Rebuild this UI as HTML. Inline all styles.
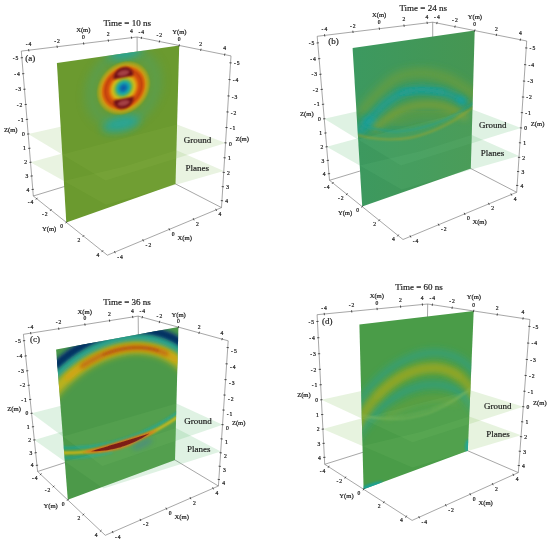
<!DOCTYPE html>
<html lang="en"><head><meta charset="utf-8"><title>GPR wave propagation snapshots</title>
<style>html,body{margin:0;padding:0;background:#fff}svg{display:block}</style></head><body>
<svg width="550" height="543" viewBox="0 0 550 543">
<rect width="550" height="543" fill="#fff"/>
<defs>
<filter id="b05" x="-50%" y="-50%" width="200%" height="200%"><feGaussianBlur stdDeviation="0.6"/></filter>
<filter id="b1" x="-50%" y="-50%" width="200%" height="200%"><feGaussianBlur stdDeviation="1"/></filter>
<filter id="b2" x="-50%" y="-50%" width="200%" height="200%"><feGaussianBlur stdDeviation="2"/></filter>
<filter id="b3" x="-50%" y="-50%" width="200%" height="200%"><feGaussianBlur stdDeviation="3"/></filter>
<filter id="b4" x="-50%" y="-50%" width="200%" height="200%"><feGaussianBlur stdDeviation="4"/></filter>
<filter id="b5" x="-50%" y="-50%" width="200%" height="200%"><feGaussianBlur stdDeviation="5"/></filter>
<linearGradient id="gb" gradientUnits="userSpaceOnUse" x1="352" y1="0" x2="475" y2="0"><stop offset="0" stop-color="#3c9960"/><stop offset="1" stop-color="#469652"/></linearGradient>
<radialGradient id="ga" gradientUnits="userSpaceOnUse" cx="0" cy="0" r="27">
<stop offset="0" stop-color="#0a5aa8"/>
<stop offset="0.08" stop-color="#0c6cae"/>
<stop offset="0.2" stop-color="#18a3a6"/>
<stop offset="0.27" stop-color="#4fae6c"/>
<stop offset="0.33" stop-color="#9ab830"/>
<stop offset="0.40" stop-color="#d2b818"/>
<stop offset="0.47" stop-color="#e08a10"/>
<stop offset="0.56" stop-color="#d4500c"/>
<stop offset="0.66" stop-color="#c4420c"/>
<stop offset="0.74" stop-color="#d8640c"/>
<stop offset="0.81" stop-color="#cc9614"/>
<stop offset="0.88" stop-color="#a8a220"/>
<stop offset="0.95" stop-color="#809e2a"/>
<stop offset="1" stop-color="#6b9a2f" stop-opacity="0"/>
</radialGradient>
</defs>
<g id="panel-a">
<clipPath id="clipa"><polygon points="56.9,62.9 179.2,45.5 175.5,183.9 66.3,222.4"/></clipPath>
<line x1="137.1" y1="37" x2="137.4" y2="164.3" stroke="#5e5e5e" stroke-width="0.55"/>
<line x1="33.3" y1="196" x2="137.4" y2="164.3" stroke="#5e5e5e" stroke-width="0.55"/>
<line x1="137.4" y1="164.3" x2="221.5" y2="207.6" stroke="#5e5e5e" stroke-width="0.55"/>
<polygon points="30.5,162.3 137.4,133.1 176.4,150.2 124.7,166.5 63.9,181" fill="#8fc46a" fill-opacity="0.2"/>
<polygon points="28.2,134 137.3,109.4 177.1,124.5 62.3,154.6" fill="#8fc46a" fill-opacity="0.2"/>
<polygon points="63.9,181 124.7,166.5 176.4,150.2 223.8,171 106.1,204.7" fill="#8fc46a" fill-opacity="0.2"/>
<polygon points="62.3,154.6 177.1,124.5 225.6,142.9 105.4,180.5" fill="#8fc46a" fill-opacity="0.2"/>
<polygon points="56.9,62.9 179.2,45.5 175.5,183.9 66.3,222.4" fill="#6b9a2f"/>
<g clip-path="url(#clipa)">
<g transform="matrix(1.0229,-0.1955,0.0125,0.9999,123.50,88.00)">
<ellipse cx="-2.5" cy="35" rx="18" ry="7.5" fill="#22a59c" opacity="1" filter="url(#b4)"/>
<ellipse cx="2.5" cy="-35" rx="16" ry="7" fill="#22a59c" opacity="0.95" filter="url(#b4)"/>
<ellipse rx="32" ry="35" fill="none" stroke="#3aa58a" stroke-width="9" opacity="0.4" filter="url(#b5)"/>
<circle r="27" fill="url(#ga)" filter="url(#b05)"/>
<path d="M-9.8,-10.6 L9.8,-10.6 C9.8,-16.5 5.6,-20.8 0,-20.8 C-5.6,-20.8 -9.8,-16.5 -9.8,-10.6 Z" fill="#6e0f14" filter="url(#b1)"/>
<path d="M-9.8,10.6 L9.8,10.6 C9.8,16.5 5.6,20.8 0,20.8 C-5.6,20.8 -9.8,16.5 -9.8,10.6 Z" fill="#6e0f14" filter="url(#b1)"/>
<ellipse cx="0" cy="-15" rx="6" ry="2.9" fill="#a44044" filter="url(#b1)"/>
<ellipse cx="0" cy="15" rx="6" ry="2.9" fill="#a44044" filter="url(#b1)"/>
</g>
</g>
<polygon points="63.9,181 124.7,166.5 176.4,150.2 223.8,171 106.1,204.7" fill="#b4d860" fill-opacity="0.08" clip-path="url(#clipa)"/>
<polygon points="62.3,154.6 177.1,124.5 225.6,142.9 105.4,180.5" fill="#b4d860" fill-opacity="0.08" clip-path="url(#clipa)"/>
<path d="M21.3,51.1L137.1,37M137.1,37L231,55.9M21.3,51.1L33.3,196M231,55.9L221.5,207.6M33.3,196L107.4,255.2M107.4,255.2L221.5,207.6" stroke="#5e5e5e" stroke-width="0.55" fill="none"/>
<path d="M28.6,49.1L28.9,51.4M57,45.6L57.3,47.9M83.5,42.4L83.8,44.7M108.2,39.4L108.5,41.7M131.4,36.6L131.7,38.8M141.6,36.8L141.2,39M159.7,40.4L159.2,42.6M179.4,44.3L179,46.6M201.1,48.7L200.6,50.9M224.9,53.5L224.5,55.7M23,57.7L20.7,57.8M24.3,73.6L22,73.8M25.6,89.2L23.3,89.3M26.9,104.4L24.6,104.6M28.1,119.3L25.8,119.5M29.3,133.9L27,134.1M30.5,148.2L28.2,148.4M31.6,162.2L29.4,162.4M32.8,175.9L30.5,176.1M33.9,189.3L31.6,189.5M231.7,62.9L229.4,62.8M230.7,79.7L228.4,79.5M229.7,96L227.4,95.9M228.7,112L226.4,111.9M227.7,127.6L225.4,127.5M226.7,142.9L224.4,142.8M225.8,157.9L223.5,157.7M224.9,172.5L222.6,172.3M224,186.8L221.7,186.6M223.1,200.8L220.8,200.6M37.4,197.8L35.9,199.6M51.5,209.1L50.1,210.9M67,221.5L65.6,223.3M84.1,235.2L82.7,236.9M103.1,250.3L101.6,252.1M114.4,251.1L115.3,253.2M142.7,239.2L143.6,241.4M168.9,228.3L169.8,230.4M193.2,218.2L194.1,220.3M215.7,208.8L216.6,210.9" stroke="#222" stroke-width="0.75" fill="none"/>
<g font-family="Liberation Serif, serif" fill="#222" stroke="#222" stroke-width="0.22"><text x="28.5" y="45.9" font-size="5.6" text-anchor="middle">-<tspan dx="0.9">4</tspan></text><text x="57" y="42.5" font-size="5.6" text-anchor="middle">-<tspan dx="0.9">2</tspan></text><text x="83.4" y="39.2" font-size="5.6" text-anchor="middle">0</text><text x="83.3" y="32.2" font-size="6.6" text-anchor="middle">X(m)</text><text x="108.2" y="36.2" font-size="5.6" text-anchor="middle">2</text><text x="131.3" y="33.4" font-size="5.6" text-anchor="middle">4</text><text x="141.3" y="33.6" font-size="5.6" text-anchor="middle">-<tspan dx="0.9">4</tspan></text><text x="159.3" y="37.2" font-size="5.6" text-anchor="middle">-<tspan dx="0.9">2</tspan></text><text x="179.1" y="41.2" font-size="5.6" text-anchor="middle">0</text><text x="179.4" y="33.8" font-size="6.6" text-anchor="middle">Y(m)</text><text x="200.7" y="45.5" font-size="5.6" text-anchor="middle">2</text><text x="224.6" y="50.3" font-size="5.6" text-anchor="middle">4</text><text x="18.4" y="59.8" font-size="5.6" text-anchor="end">-<tspan dx="0.9">5</tspan></text><text x="19.8" y="75.8" font-size="5.6" text-anchor="end">-<tspan dx="0.9">4</tspan></text><text x="21" y="91.4" font-size="5.6" text-anchor="end">-<tspan dx="0.9">3</tspan></text><text x="22.3" y="106.6" font-size="5.6" text-anchor="end">-<tspan dx="0.9">2</tspan></text><text x="23.5" y="121.5" font-size="5.6" text-anchor="end">-<tspan dx="0.9">1</tspan></text><text x="24.8" y="136.1" font-size="5.6" text-anchor="end">0</text><text x="17.5" y="131.6" font-size="6.6" text-anchor="end">Z(m)</text><text x="25.9" y="150.4" font-size="5.6" text-anchor="end">1</text><text x="27.1" y="164.4" font-size="5.6" text-anchor="end">2</text><text x="28.2" y="178.1" font-size="5.6" text-anchor="end">3</text><text x="29.4" y="191.5" font-size="5.6" text-anchor="end">4</text><text x="233.9" y="65.4" font-size="5.6" text-anchor="start">-<tspan dx="0.9">5</tspan></text><text x="232.8" y="82.2" font-size="5.6" text-anchor="start">-<tspan dx="0.9">4</tspan></text><text x="231.8" y="98.6" font-size="5.6" text-anchor="start">-<tspan dx="0.9">3</tspan></text><text x="230.8" y="114.5" font-size="5.6" text-anchor="start">-<tspan dx="0.9">2</tspan></text><text x="229.8" y="130.2" font-size="5.6" text-anchor="start">-<tspan dx="0.9">1</tspan></text><text x="228.9" y="145.5" font-size="5.6" text-anchor="start">0</text><text x="235.4" y="141.4" font-size="6.6" text-anchor="start">Z(m)</text><text x="228" y="160.4" font-size="5.6" text-anchor="start">1</text><text x="227" y="175" font-size="5.6" text-anchor="start">2</text><text x="226.2" y="189.3" font-size="5.6" text-anchor="start">3</text><text x="225.3" y="203.3" font-size="5.6" text-anchor="start">4</text><text x="33.4" y="204.4" font-size="5.6" text-anchor="end">-<tspan dx="0.9">4</tspan></text><text x="47.6" y="215.7" font-size="5.6" text-anchor="end">-<tspan dx="0.9">2</tspan></text><text x="63.1" y="228.1" font-size="5.6" text-anchor="end">0</text><text x="56.3" y="230.8" font-size="6.6" text-anchor="end">Y(m)</text><text x="80.2" y="241.7" font-size="5.6" text-anchor="end">2</text><text x="99.2" y="256.9" font-size="5.6" text-anchor="end">4</text><text x="117.3" y="258.6" font-size="5.6" text-anchor="start">-<tspan dx="0.9">4</tspan></text><text x="145.6" y="246.8" font-size="5.6" text-anchor="start">-<tspan dx="0.9">2</tspan></text><text x="171.8" y="235.9" font-size="5.6" text-anchor="start">0</text><text x="177.6" y="240" font-size="6.6" text-anchor="start">X(m)</text><text x="196" y="225.8" font-size="5.6" text-anchor="start">2</text><text x="218.6" y="216.3" font-size="5.6" text-anchor="start">4</text></g>
<g font-family="Liberation Serif, serif" fill="#1a1a1a" stroke="#1a1a1a" stroke-width="0.18" font-size="9">
<text x="127.2" y="26.2" text-anchor="middle">Time = 10 ns</text>
<text x="25.3" y="61" text-anchor="start">(a)</text>
<text x="183.8" y="142.9" text-anchor="start">Ground</text>
<text x="185.6" y="170.8" text-anchor="start">Planes</text>
</g>
</g>
<g id="panel-b">
<clipPath id="clipb"><polygon points="352.6,48 474.7,30.6 470.8,168.5 362.2,206.6"/></clipPath>
<line x1="432.7" y1="22.2" x2="432.9" y2="148.9" stroke="#5e5e5e" stroke-width="0.55"/>
<line x1="329.5" y1="180.3" x2="432.9" y2="148.9" stroke="#5e5e5e" stroke-width="0.55"/>
<line x1="432.9" y1="148.9" x2="516.7" y2="192.3" stroke="#5e5e5e" stroke-width="0.55"/>
<polygon points="326.7,146.8 432.9,117.9 471.8,135 420.2,151.2 359.7,165.6" fill="#5fbe73" fill-opacity="0.2"/>
<polygon points="324.3,118.8 432.8,94.3 472.5,109.4 358.1,139.4" fill="#5fbe73" fill-opacity="0.2"/>
<polygon points="359.7,165.6 420.2,151.2 471.8,135 519.1,155.9 401.6,189.5" fill="#5fbe73" fill-opacity="0.2"/>
<polygon points="358.1,139.4 472.5,109.4 521,127.9 401,165.4" fill="#5fbe73" fill-opacity="0.2"/>
<polygon points="352.6,48 474.7,30.6 470.8,168.5 362.2,206.6" fill="url(#gb)"/>
<g clip-path="url(#clipb)">
<path d="M360,114C362.2,111.4 367,104.5 373,98.5C379,92.5 388,82.2 396,78C404,73.8 412.5,73 421,73C429.5,73 439.7,75.4 447,78C454.3,80.6 459.1,85.1 464.6,88.4C470.1,91.7 477.4,96.4 480,98" fill="none" stroke="#7da032" stroke-width="9" stroke-opacity="0.6" stroke-linecap="butt" filter="url(#b4)"/>
<path d="M360,131C361.5,129.4 365.2,125.7 369,121.5C372.8,117.3 377.7,110.7 383,106C388.3,101.3 394.7,96.2 401,93.5C407.3,90.8 414.2,89.8 421,89.6C427.8,89.4 436,91 441.7,92.2C447.4,93.4 451.3,95.3 455,97C458.7,98.7 462.5,101.6 464,102.5" fill="none" stroke="#169f9c" stroke-width="8" stroke-opacity="0.8" stroke-linecap="round" filter="url(#b3)"/>
<ellipse cx="461" cy="100.5" rx="5" ry="4" transform="rotate(35 461 100.5)" fill="#12a0a0" opacity="0.7" filter="url(#b2)"/>
<ellipse cx="369.5" cy="122" rx="7" ry="6" fill="#12a0a0" opacity="0.8" filter="url(#b3)"/>
<path d="M401,93.5C404.3,92.8 414.2,89.8 421,89.6C427.8,89.4 438.2,91.8 441.7,92.2" fill="none" stroke="#12a0a0" stroke-width="6" stroke-opacity="0.5" stroke-linecap="round" filter="url(#b3)"/>
<path d="M376,127C377.2,126.1 378.8,124.3 383,121.5C387.2,118.7 394.7,112.8 401,110C407.3,107.2 414.2,105.7 421,105C427.8,104.3 436,105 441.7,106C447.4,107 451.3,109.3 455,111C458.7,112.7 462.5,115.2 464,116" fill="none" stroke="#86a02c" stroke-width="8" stroke-opacity="0.7" stroke-linecap="round" filter="url(#b3)"/>
<path d="M395,122C399.3,120.8 411.8,115.8 421,115C430.2,114.2 445.2,116.7 450,117" fill="none" stroke="#86a02c" stroke-width="8" stroke-opacity="0.35" stroke-linecap="round" filter="url(#b4)"/>
<path d="M350,133.5C351.3,133.8 352.2,134.5 357.7,135.4C363.2,136.3 374.5,138.8 383,139.2C391.5,139.6 400.1,139.5 408.6,138C417.1,136.5 426.4,133.3 434,130.3C441.6,127.3 448.2,123.8 454.4,120.2C460.6,116.6 466.7,111.7 471,108.7C475.3,105.7 478.5,103.1 480,102" fill="none" stroke="#8aa030" stroke-width="1.8" stroke-opacity="0.9" stroke-linecap="butt" filter="url(#b1)"/>
<path d="M366,126C366.7,126.3 365.4,126.9 370.4,127.8C375.4,128.7 387.5,131.6 396,131.6C404.5,131.6 412.8,129.9 421.3,127.8C429.8,125.7 439.2,122.3 446.8,118.9C454.4,115.5 461.5,110.7 467,107.4C472.5,104.1 477.8,100.4 480,99" fill="none" stroke="#1f9f93" stroke-width="2.2" stroke-opacity="0.6" stroke-linecap="butt" filter="url(#b1)"/>
</g>
<polygon points="359.7,165.6 420.2,151.2 471.8,135 519.1,155.9 401.6,189.5" fill="#90e0a0" fill-opacity="0.08" clip-path="url(#clipb)"/>
<polygon points="358.1,139.4 472.5,109.4 521,127.9 401,165.4" fill="#90e0a0" fill-opacity="0.08" clip-path="url(#clipb)"/>
<path d="M317.2,36.3L432.7,22.2M432.7,22.2L526.7,41M317.2,36.3L329.5,180.3M526.7,41L516.7,192.3M329.5,180.3L403,239.5M403,239.5L516.7,192.3" stroke="#5e5e5e" stroke-width="0.55" fill="none"/>
<path d="M324.5,34.2L324.8,36.5M352.8,30.7L353.1,33M379.2,27.5L379.5,29.8M403.9,24.5L404.2,26.8M427,21.7L427.3,24M437.2,21.9L436.7,24.1M455.2,25.5L454.8,27.7M475,29.4L474.5,31.7M496.6,33.8L496.2,36M520.6,38.6L520.1,40.8M318.9,42.8L316.6,43M320.3,58.6L318,58.8M321.6,74.2L319.3,74.4M322.9,89.3L320.6,89.5M324.2,104.2L321.9,104.4M325.4,118.7L323.1,118.9M326.6,132.9L324.3,133.1M327.8,146.7L325.5,146.9M329,160.3L326.7,160.5M330.1,173.6L327.8,173.8M527.4,48L525.1,47.9M526.3,64.8L524,64.6M525.2,81.2L522.9,81M524.2,97.1L521.9,97M523.1,112.7L520.8,112.6M522.1,128L519.8,127.8M521.1,142.9L518.9,142.7M520.2,157.4L517.9,157.3M519.2,171.6L517,171.5M518.3,185.5L516,185.4M333.5,182L332.1,183.8M347.5,193.3L346.1,195.1M362.9,205.7L361.5,207.5M379.9,219.4L378.4,221.2M398.7,234.6L397.3,236.4M410,235.4L410.9,237.5M438.2,223.7L439.1,225.8M464.2,212.8L465.1,215M488.4,202.8L489.3,204.9M510.9,193.5L511.8,195.6" stroke="#222" stroke-width="0.75" fill="none"/>
<g font-family="Liberation Serif, serif" fill="#222" stroke="#222" stroke-width="0.22"><text x="324.4" y="31" font-size="5.6" text-anchor="middle">-<tspan dx="0.9">4</tspan></text><text x="352.8" y="27.6" font-size="5.6" text-anchor="middle">-<tspan dx="0.9">2</tspan></text><text x="379.2" y="24.4" font-size="5.6" text-anchor="middle">0</text><text x="379.1" y="17.4" font-size="6.6" text-anchor="middle">X(m)</text><text x="403.8" y="21.4" font-size="5.6" text-anchor="middle">2</text><text x="426.9" y="18.5" font-size="5.6" text-anchor="middle">4</text><text x="436.9" y="18.7" font-size="5.6" text-anchor="middle">-<tspan dx="0.9">4</tspan></text><text x="454.9" y="22.3" font-size="5.6" text-anchor="middle">-<tspan dx="0.9">2</tspan></text><text x="474.6" y="26.3" font-size="5.6" text-anchor="middle">0</text><text x="474.9" y="18.9" font-size="6.6" text-anchor="middle">Y(m)</text><text x="496.3" y="30.6" font-size="5.6" text-anchor="middle">2</text><text x="520.3" y="35.4" font-size="5.6" text-anchor="middle">4</text><text x="314.4" y="45" font-size="5.6" text-anchor="end">-<tspan dx="0.9">5</tspan></text><text x="315.7" y="60.8" font-size="5.6" text-anchor="end">-<tspan dx="0.9">4</tspan></text><text x="317.1" y="76.4" font-size="5.6" text-anchor="end">-<tspan dx="0.9">3</tspan></text><text x="318.4" y="91.5" font-size="5.6" text-anchor="end">-<tspan dx="0.9">2</tspan></text><text x="319.6" y="106.4" font-size="5.6" text-anchor="end">-<tspan dx="0.9">1</tspan></text><text x="320.9" y="120.9" font-size="5.6" text-anchor="end">0</text><text x="313.6" y="116.4" font-size="6.6" text-anchor="end">Z(m)</text><text x="322.1" y="135.1" font-size="5.6" text-anchor="end">1</text><text x="323.3" y="148.9" font-size="5.6" text-anchor="end">2</text><text x="324.4" y="162.5" font-size="5.6" text-anchor="end">3</text><text x="325.6" y="175.8" font-size="5.6" text-anchor="end">4</text><text x="529.6" y="50.3" font-size="5.6" text-anchor="start">-<tspan dx="0.9">5</tspan></text><text x="528.5" y="67" font-size="5.6" text-anchor="start">-<tspan dx="0.9">4</tspan></text><text x="527.4" y="83.4" font-size="5.6" text-anchor="start">-<tspan dx="0.9">3</tspan></text><text x="526.3" y="99.4" font-size="5.6" text-anchor="start">-<tspan dx="0.9">2</tspan></text><text x="525.3" y="115" font-size="5.6" text-anchor="start">-<tspan dx="0.9">1</tspan></text><text x="524.3" y="130.2" font-size="5.6" text-anchor="start">0</text><text x="530.8" y="125.9" font-size="6.6" text-anchor="start">Z(m)</text><text x="523.3" y="145.1" font-size="5.6" text-anchor="start">1</text><text x="522.3" y="159.6" font-size="5.6" text-anchor="start">2</text><text x="521.4" y="173.8" font-size="5.6" text-anchor="start">3</text><text x="520.5" y="187.7" font-size="5.6" text-anchor="start">4</text><text x="329.6" y="188.6" font-size="5.6" text-anchor="end">-<tspan dx="0.9">4</tspan></text><text x="343.6" y="199.9" font-size="5.6" text-anchor="end">-<tspan dx="0.9">2</tspan></text><text x="359" y="212.3" font-size="5.6" text-anchor="end">0</text><text x="352.2" y="215" font-size="6.6" text-anchor="end">Y(m)</text><text x="376" y="226" font-size="5.6" text-anchor="end">2</text><text x="394.8" y="241.2" font-size="5.6" text-anchor="end">4</text><text x="412.8" y="242.9" font-size="5.6" text-anchor="start">-<tspan dx="0.9">4</tspan></text><text x="441" y="231.2" font-size="5.6" text-anchor="start">-<tspan dx="0.9">2</tspan></text><text x="467.1" y="220.4" font-size="5.6" text-anchor="start">0</text><text x="472.4" y="223.7" font-size="6.6" text-anchor="start">X(m)</text><text x="491.3" y="210.4" font-size="5.6" text-anchor="start">2</text><text x="513.8" y="201" font-size="5.6" text-anchor="start">4</text></g>
<g font-family="Liberation Serif, serif" fill="#1a1a1a" stroke="#1a1a1a" stroke-width="0.18" font-size="9">
<text x="423.2" y="11.3" text-anchor="middle">Time = 24 ns</text>
<text x="328.2" y="43.6" text-anchor="start">(b)</text>
<text x="479.1" y="127.5" text-anchor="start">Ground</text>
<text x="480.7" y="155.8" text-anchor="start">Planes</text>
</g>
</g>
<g id="panel-c">
<clipPath id="clipc"><polygon points="56.1,349.6 178.4,327.1 175,460 67.8,499.8"/></clipPath>
<line x1="138.2" y1="316.1" x2="139.2" y2="438.5" stroke="#5e5e5e" stroke-width="0.55"/>
<line x1="37.6" y1="471.5" x2="139.2" y2="438.5" stroke="#5e5e5e" stroke-width="0.55"/>
<line x1="139.2" y1="438.5" x2="218.4" y2="486" stroke="#5e5e5e" stroke-width="0.55"/>
<polygon points="34.4,439.9 139,408.8 175.8,428 124.5,445.5 64.8,461.4" fill="#5fbe73" fill-opacity="0.2"/>
<polygon points="31.6,413.3 138.8,386.1 176.5,403.5 62.9,436.6" fill="#5fbe73" fill-opacity="0.2"/>
<polygon points="64.8,461.4 124.5,445.5 175.8,428 220.8,451.4 103.4,488.6" fill="#5fbe73" fill-opacity="0.2"/>
<polygon points="62.9,436.6 176.5,403.5 222.6,424.7 102.4,466.1" fill="#5fbe73" fill-opacity="0.2"/>
<polygon points="56.1,349.6 178.4,327.1 175,460 67.8,499.8" fill="#4c9949"/>
<g clip-path="url(#clipc)">
<path d="M46.8,374.5C48.2,373.1 52.3,368.9 55,366.3C57.7,363.7 60.5,361.4 63.2,359.2C65.9,356.9 68.6,354.9 71.3,353C74,351.1 76.7,349.3 79.4,347.7C82.1,346 84.7,344.5 87.4,343.1C90,341.8 92.7,340.5 95.3,339.3C97.9,338.2 100.5,337.2 103.1,336.2C105.7,335.3 108.2,334.5 110.8,333.8C113.3,333.1 115.8,332.5 118.3,332C120.8,331.5 123.3,331.1 125.8,330.7C128.2,330.4 130.6,330.2 133,330.1C135.4,330 137.8,330 140.2,330.1C142.5,330.2 144.9,330.3 147.2,330.6C149.5,330.9 151.8,331.2 154,331.7C156.3,332.2 158.5,332.8 160.7,333.4C162.9,334.1 165.1,334.9 167.2,335.8C169.4,336.6 171.5,337.6 173.6,338.7C175.7,339.8 177.7,341.1 179.7,342.4C181.8,343.8 184.7,346.2 185.7,346.9" fill="none" stroke="#0a3a72" stroke-width="9.5" stroke-opacity="1" stroke-linecap="butt" filter="url(#b2)"/>
<path d="M46.8,374.5C48.2,373.1 52.3,368.9 55,366.3C57.7,363.7 60.5,361.4 63.2,359.2C65.9,356.9 68.6,354.9 71.3,353C74,351.1 76.7,349.3 79.4,347.7C82.1,346 84.7,344.5 87.4,343.1C90,341.8 92.7,340.5 95.3,339.3C97.9,338.2 100.5,337.2 103.1,336.2C105.7,335.3 108.2,334.5 110.8,333.8C113.3,333.1 115.8,332.5 118.3,332C120.8,331.5 123.3,331.1 125.8,330.7C128.2,330.4 130.6,330.2 133,330.1C135.4,330 137.8,330 140.2,330.1C142.5,330.2 144.9,330.3 147.2,330.6C149.5,330.9 151.8,331.2 154,331.7C156.3,332.2 158.5,332.8 160.7,333.4C162.9,334.1 165.1,334.9 167.2,335.8C169.4,336.6 171.5,337.6 173.6,338.7C175.7,339.8 177.7,341.1 179.7,342.4C181.8,343.8 184.7,346.2 185.7,346.9" fill="none" stroke="#08305f" stroke-width="5" stroke-opacity="0.8" stroke-linecap="butt" filter="url(#b1)"/>
<path d="M47.8,385.6C49.1,384.1 53.1,379.5 55.8,376.8C58.5,374 61.2,371.5 63.9,369.2C66.6,366.8 69.3,364.6 71.9,362.6C74.6,360.6 77.3,358.7 79.9,357C82.6,355.2 85.2,353.7 87.8,352.2C90.5,350.7 93.1,349.4 95.7,348.2C98.3,347 100.8,345.9 103.4,344.9C106,343.9 108.5,343.1 111,342.3C113.6,341.6 116.1,341 118.5,340.4C121,339.9 123.5,339.5 125.9,339.1C128.3,338.8 130.8,338.6 133.1,338.5C135.5,338.3 137.9,338.3 140.2,338.4C142.6,338.5 144.9,338.7 147.2,339C149.5,339.3 151.7,339.6 154,340.1C156.2,340.6 158.4,341.2 160.6,342C162.8,342.7 165,343.5 167.1,344.4C169.2,345.4 171.3,346.4 173.4,347.6C175.4,348.8 177.5,350.2 179.5,351.6C181.5,353.1 184.4,355.7 185.4,356.5" fill="none" stroke="#18a0a4" stroke-width="6.5" stroke-opacity="1" stroke-linecap="butt" filter="url(#b2)"/>
<path d="M48.9,398.3C50.2,396.7 54.1,391.6 56.8,388.6C59.4,385.6 62.1,382.9 64.7,380.4C67.3,377.8 70,375.5 72.6,373.3C75.3,371.1 77.9,369.2 80.5,367.3C83.1,365.4 85.7,363.8 88.3,362.2C90.9,360.6 93.5,359.2 96.1,358C98.7,356.7 101.2,355.5 103.8,354.5C106.3,353.4 108.8,352.5 111.3,351.7C113.8,351 116.3,350.3 118.8,349.7C121.2,349.1 123.7,348.7 126.1,348.3C128.5,348 130.9,347.8 133.3,347.6C135.6,347.5 138,347.5 140.3,347.6C142.6,347.7 144.9,347.9 147.2,348.2C149.5,348.5 151.7,348.9 153.9,349.5C156.2,350 158.4,350.7 160.5,351.4C162.7,352.2 164.8,353.1 166.9,354.2C169,355.2 171.1,356.4 173.2,357.7C175.2,359 177.2,360.5 179.2,362.1C181.2,363.8 184.1,366.8 185.1,367.7" fill="none" stroke="#c6b414" stroke-width="11.5" stroke-opacity="0.95" stroke-linecap="butt" filter="url(#b3)"/>
<path d="M67.7,377.6C68.7,376.7 71.8,373.9 73.9,372.3C76,370.6 78.1,369 80.1,367.6C82.2,366.1 84.3,364.7 86.3,363.4C88.4,362.2 90.4,361 92.5,359.9C94.5,358.7 96.5,357.7 98.5,356.8C100.6,355.8 102.6,355 104.6,354.2C106.6,353.4 108.6,352.6 110.5,352C112.5,351.4 114.5,350.8 116.4,350.3C118.4,349.8 120.3,349.3 122.2,349C124.1,348.6 126.1,348.3 128,348.1C129.9,347.9 131.7,347.7 133.6,347.6C135.5,347.5 137.3,347.5 139.2,347.6C141,347.6 142.8,347.7 144.6,347.9C146.4,348.1 148.2,348.3 150,348.6C151.8,349 153.5,349.4 155.3,349.8C157,350.3 158.7,350.8 160.5,351.4C162.2,352 163.9,352.7 165.5,353.5C167.2,354.3 168.9,355.1 170.5,356C172.1,357 174.5,358.6 175.3,359.2" fill="none" stroke="#d8a010" stroke-width="6" stroke-opacity="0.8" stroke-linecap="round" filter="url(#b2)"/>
<path d="M82.1,366.2C82.9,365.7 85.3,364.1 86.9,363.1C88.5,362.1 90.1,361.1 91.7,360.3C93.3,359.4 94.9,358.6 96.5,357.8C98.1,357 99.6,356.3 101.2,355.6C102.8,354.9 104.3,354.2 105.9,353.6C107.4,353.1 109,352.5 110.5,352C112.1,351.5 113.6,351 115.1,350.6C116.7,350.2 118.2,349.8 119.7,349.5C121.2,349.2 122.7,348.9 124.2,348.6C125.7,348.4 127.2,348.2 128.6,348C130.1,347.9 131.6,347.7 133.1,347.7C134.5,347.6 136,347.5 137.4,347.5C138.8,347.5 140.3,347.6 141.7,347.7C143.1,347.8 144.5,347.9 145.9,348C147.4,348.2 148.7,348.4 150.1,348.7C151.5,348.9 152.9,349.2 154.3,349.6C155.6,349.9 157,350.3 158.3,350.7C159.7,351.1 161,351.6 162.3,352.1C163.6,352.6 165.6,353.5 166.3,353.8" fill="none" stroke="#bd5c0e" stroke-width="4.2" stroke-opacity="0.9" stroke-linecap="round" filter="url(#b2)"/>
<path d="M103.3,354.7C103.8,354.5 105.4,353.8 106.4,353.5C107.4,353.1 108.4,352.7 109.4,352.4C110.5,352 111.5,351.7 112.5,351.4C113.5,351.1 114.5,350.8 115.5,350.5C116.5,350.3 117.5,350 118.5,349.8C119.5,349.5 120.5,349.3 121.4,349.1C122.4,348.9 123.4,348.8 124.4,348.6C125.4,348.4 126.4,348.3 127.3,348.2C128.3,348.1 129.3,348 130.2,347.9C131.2,347.8 132.2,347.7 133.1,347.7C134.1,347.6 135,347.6 136,347.6C136.9,347.5 137.9,347.5 138.8,347.6C139.8,347.6 140.7,347.6 141.6,347.7C142.6,347.7 143.5,347.8 144.4,347.9C145.4,348 146.3,348.1 147.2,348.2C148.1,348.3 149,348.5 149.9,348.6C150.8,348.8 151.8,349 152.7,349.2C153.6,349.4 154.4,349.6 155.3,349.8C156.2,350.1 157.6,350.5 158,350.6" fill="none" stroke="#b24c0c" stroke-width="2.2" stroke-opacity="0.7" stroke-linecap="round" filter="url(#b1)"/>
<path d="M53.1,447.3C54.5,447.4 58.7,447.7 61.5,447.8C64.2,447.9 66.9,447.9 69.6,447.9C72.2,447.9 74.8,447.8 77.4,447.6C80,447.5 82.6,447.3 85.1,447.1C87.6,446.9 90.1,446.6 92.6,446.3C95.1,445.9 97.5,445.5 99.9,445.1C102.3,444.7 104.7,444.2 107.1,443.7C109.5,443.2 111.8,442.7 114.1,442.1C116.4,441.5 118.7,440.9 121,440.2C123.2,439.5 125.5,438.8 127.7,438.1C129.9,437.3 132.1,436.5 134.3,435.7C136.5,434.8 138.7,434 140.8,433.1C143,432.1 145.1,431.2 147.2,430.2C149.4,429.2 151.4,428.2 153.5,427.1C155.6,426.1 157.7,425 159.7,423.8C161.8,422.7 163.8,421.5 165.9,420.3C167.9,419 169.9,417.8 171.9,416.5C173.9,415.2 175.9,413.8 177.9,412.4C179.8,411 182.8,408.8 183.8,408.1" fill="none" stroke="#1aa39a" stroke-width="3" stroke-opacity="0.75" stroke-linecap="butt" filter="url(#b1)"/>
<path d="M54,457.7C54.6,457.7 56.3,457.8 57.4,457.8C58.5,457.8 59.6,457.8 60.7,457.9C61.8,457.9 62.9,457.9 64,457.9C65.1,457.9 66.1,457.8 67.2,457.8C68.3,457.8 69.4,457.8 70.4,457.7C71.5,457.7 72.5,457.6 73.6,457.6C74.6,457.5 75.7,457.5 76.7,457.4C77.8,457.3 78.8,457.2 79.8,457.1C80.9,457.1 81.9,457 82.9,456.9C83.9,456.8 84.9,456.6 85.9,456.5C87,456.4 88,456.3 89,456.2C90,456 91,455.9 91.9,455.7C92.9,455.6 93.9,455.4 94.9,455.3C95.9,455.1 96.9,454.9 97.8,454.8C98.8,454.6 99.8,454.4 100.7,454.2C101.7,454 102.7,453.8 103.6,453.6C104.6,453.4 105.5,453.2 106.5,453C107.4,452.8 108.4,452.6 109.3,452.3C110.3,452.1 111.7,451.8 112.1,451.6" fill="none" stroke="#1aa39a" stroke-width="3" stroke-opacity="0.65" stroke-linecap="butt" filter="url(#b1)"/>
<path d="M53.6,452.5C55,452.6 59.1,452.8 61.9,452.8C64.6,452.9 67.3,452.9 69.9,452.8C72.6,452.8 75.2,452.7 77.7,452.5C80.3,452.3 82.9,452.1 85.4,451.9C87.9,451.6 90.4,451.3 92.8,450.9C95.3,450.6 97.7,450.2 100.1,449.7C102.5,449.3 104.9,448.8 107.3,448.3C109.6,447.8 111.9,447.2 114.2,446.6C116.5,446 118.8,445.3 121.1,444.6C123.3,444 125.6,443.2 127.8,442.5C130,441.7 132.2,440.9 134.4,440.1C136.6,439.2 138.7,438.4 140.9,437.4C143,436.5 145.1,435.6 147.2,434.6C149.3,433.6 151.4,432.6 153.5,431.5C155.6,430.5 157.6,429.4 159.7,428.2C161.7,427.1 163.8,425.9 165.8,424.7C167.8,423.5 169.8,422.2 171.8,420.9C173.8,419.6 175.8,418.3 177.7,416.9C179.7,415.5 182.6,413.4 183.6,412.7" fill="none" stroke="#d4b810" stroke-width="2.6" stroke-opacity="1" stroke-linecap="butt" filter="url(#b1)"/>
<path d="M81.4,452.2L85.1,451.2L88.7,450.1L92.4,449.1L96,448L99.5,447L103.1,445.9L106.6,444.9L110,443.9L113.5,442.9L116.9,441.8L120.2,440.8L123.6,439.8L126.9,438.8L130.2,437.8L133.4,436.8L136.6,435.8L139.8,434.8L143,433.8L146.1,432.8L149.3,431.8L152.4,430.9L155.4,429.9L158.4,428.9L158.4,428.9L155.4,431.2L152.3,433.4L149.3,435.4L146.2,437.4L143,439.2L139.9,440.9L136.7,442.5L133.5,444L130.3,445.4L127,446.7L123.7,447.8L120.4,448.9L117.1,449.8L113.7,450.6L110.3,451.3L106.8,451.9L103.3,452.3L99.8,452.7L96.2,452.8L92.6,452.9L88.9,452.8L85.2,452.6L81.4,452.2Z" fill="#d8700c" filter="url(#b1)"/>
<path d="M91,451.2L93.7,450.4L96.4,449.6L99.1,448.8L101.8,448L104.5,447.2L107.1,446.4L109.7,445.6L112.3,444.8L114.9,444.1L117.5,443.3L120.1,442.5L122.6,441.8L125.1,441L127.6,440.2L130.1,439.5L132.5,438.7L135,438L137.4,437.2L139.8,436.5L142.2,435.8L144.6,435L147,434.3L149.4,433.6L149.4,433.6L147,435.1L144.6,436.5L142.3,437.9L139.9,439.2L137.5,440.5L135,441.7L132.6,442.8L130.2,443.8L127.7,444.8L125.2,445.7L122.7,446.6L120.2,447.4L117.6,448.1L115.1,448.7L112.5,449.3L109.9,449.8L107.3,450.2L104.6,450.6L101.9,450.8L99.2,451L96.5,451.2L93.8,451.2L91,451.2Z" fill="#7a1010" filter="url(#b05)"/>
<ellipse cx="142.4" cy="444.2" rx="11" ry="3.8" transform="rotate(-25 142.4 444.2)" fill="#3d7d82" opacity="0.7" filter="url(#b2)"/>
</g>
<polygon points="64.8,461.4 124.5,445.5 175.8,428 220.8,451.4 103.4,488.6" fill="#a0e090" fill-opacity="0.08" clip-path="url(#clipc)"/>
<polygon points="62.9,436.6 176.5,403.5 222.6,424.7 102.4,466.1" fill="#a0e090" fill-opacity="0.08" clip-path="url(#clipc)"/>
<path d="M23.4,334.3L138.2,316.1M138.2,316.1L228.2,340.8M23.4,334.3L37.6,471.5M228.2,340.8L218.4,486M37.6,471.5L105.3,535.3M105.3,535.3L218.4,486" stroke="#5e5e5e" stroke-width="0.55" fill="none"/>
<path d="M30.6,332L30.9,334.3M58.6,327.6L58.9,329.9M84.8,323.4L85.1,325.7M109.4,319.5L109.7,321.8M132.5,315.9L132.9,318.1M142.6,316.1L142,318.3M159.8,320.8L159.2,323.1M178.7,326L178.1,328.2M199.5,331.7L198.8,333.9M222.4,338L221.8,340.2M25.2,340.6L22.9,340.8M26.8,355.8L24.5,356.1M28.3,370.7L26.1,370.9M29.9,385.2L27.6,385.4M31.3,399.4L29,399.6M32.7,413.2L30.5,413.4M34.1,426.6L31.9,426.9M35.5,439.8L33.2,440M36.8,452.6L34.5,452.9M38.1,465.2L35.8,465.4M228.9,347.7L226.6,347.5M227.8,363.9L225.5,363.8M226.7,379.7L224.4,379.6M225.7,395.1L223.4,395M224.7,410.1L222.4,410M223.7,424.7L221.4,424.6M222.7,439L220.5,438.8M221.8,452.9L219.5,452.7M220.9,466.4L218.6,466.2M220,479.6L217.7,479.4M41.5,473.5L39.9,475.2M54.4,485.7L52.8,487.3M68.5,499L67,500.7M84.2,513.7L82.6,515.4M101.5,530.1L99.9,531.7M112.2,531L113.1,533.1M140,518.9L140.9,521M165.9,507.6L166.8,509.7M190,497.1L190.9,499.2M212.6,487.3L213.5,489.4" stroke="#222" stroke-width="0.75" fill="none"/>
<g font-family="Liberation Serif, serif" fill="#222" stroke="#222" stroke-width="0.22"><text x="30.5" y="328.9" font-size="5.6" text-anchor="middle">-<tspan dx="0.9">4</tspan></text><text x="58.5" y="324.4" font-size="5.6" text-anchor="middle">-<tspan dx="0.9">2</tspan></text><text x="84.8" y="320.3" font-size="5.6" text-anchor="middle">0</text><text x="84.7" y="314.4" font-size="6.6" text-anchor="middle">X(m)</text><text x="109.4" y="316.4" font-size="5.6" text-anchor="middle">2</text><text x="132.5" y="312.7" font-size="5.6" text-anchor="middle">4</text><text x="142.2" y="312.9" font-size="5.6" text-anchor="middle">-<tspan dx="0.9">4</tspan></text><text x="159.4" y="317.7" font-size="5.6" text-anchor="middle">-<tspan dx="0.9">2</tspan></text><text x="178.3" y="322.8" font-size="5.6" text-anchor="middle">0</text><text x="178.6" y="316.7" font-size="6.6" text-anchor="middle">Y(m)</text><text x="199.1" y="328.5" font-size="5.6" text-anchor="middle">2</text><text x="222" y="334.8" font-size="5.6" text-anchor="middle">4</text><text x="20.7" y="342.8" font-size="5.6" text-anchor="end">-<tspan dx="0.9">5</tspan></text><text x="22.3" y="358.1" font-size="5.6" text-anchor="end">-<tspan dx="0.9">4</tspan></text><text x="23.8" y="372.9" font-size="5.6" text-anchor="end">-<tspan dx="0.9">3</tspan></text><text x="25.3" y="387.4" font-size="5.6" text-anchor="end">-<tspan dx="0.9">2</tspan></text><text x="26.8" y="401.6" font-size="5.6" text-anchor="end">-<tspan dx="0.9">1</tspan></text><text x="28.2" y="415.4" font-size="5.6" text-anchor="end">0</text><text x="20.9" y="410.9" font-size="6.6" text-anchor="end">Z(m)</text><text x="29.6" y="428.8" font-size="5.6" text-anchor="end">1</text><text x="31" y="442" font-size="5.6" text-anchor="end">2</text><text x="32.3" y="454.8" font-size="5.6" text-anchor="end">3</text><text x="33.6" y="467.4" font-size="5.6" text-anchor="end">4</text><text x="231.1" y="353" font-size="5.6" text-anchor="start">-<tspan dx="0.9">5</tspan></text><text x="230" y="369.2" font-size="5.6" text-anchor="start">-<tspan dx="0.9">4</tspan></text><text x="228.9" y="385.1" font-size="5.6" text-anchor="start">-<tspan dx="0.9">3</tspan></text><text x="227.9" y="400.5" font-size="5.6" text-anchor="start">-<tspan dx="0.9">2</tspan></text><text x="226.8" y="415.5" font-size="5.6" text-anchor="start">-<tspan dx="0.9">1</tspan></text><text x="225.9" y="430.1" font-size="5.6" text-anchor="start">0</text><text x="231.9" y="425.2" font-size="6.6" text-anchor="start">Z(m)</text><text x="224.9" y="444.3" font-size="5.6" text-anchor="start">1</text><text x="224" y="458.2" font-size="5.6" text-anchor="start">2</text><text x="223.1" y="471.7" font-size="5.6" text-anchor="start">3</text><text x="222.2" y="484.9" font-size="5.6" text-anchor="start">4</text><text x="37.5" y="480" font-size="5.6" text-anchor="end">-<tspan dx="0.9">4</tspan></text><text x="50.4" y="492.2" font-size="5.6" text-anchor="end">-<tspan dx="0.9">2</tspan></text><text x="64.6" y="505.5" font-size="5.6" text-anchor="end">0</text><text x="57.8" y="508.2" font-size="6.6" text-anchor="end">Y(m)</text><text x="80.2" y="520.3" font-size="5.6" text-anchor="end">2</text><text x="97.5" y="536.6" font-size="5.6" text-anchor="end">4</text><text x="115" y="538.6" font-size="5.6" text-anchor="start">-<tspan dx="0.9">4</tspan></text><text x="142.9" y="526.4" font-size="5.6" text-anchor="start">-<tspan dx="0.9">2</tspan></text><text x="168.8" y="515.2" font-size="5.6" text-anchor="start">0</text><text x="174.6" y="519.3" font-size="6.6" text-anchor="start">X(m)</text><text x="192.9" y="504.6" font-size="5.6" text-anchor="start">2</text><text x="215.4" y="494.8" font-size="5.6" text-anchor="start">4</text></g>
<g font-family="Liberation Serif, serif" fill="#1a1a1a" stroke="#1a1a1a" stroke-width="0.18" font-size="9">
<text x="127.1" y="304.7" text-anchor="middle">Time = 36 ns</text>
<text x="29.9" y="341.9" text-anchor="start">(c)</text>
<text x="184.3" y="424.4" text-anchor="start">Ground</text>
<text x="187.1" y="451.7" text-anchor="start">Planes</text>
</g>
</g>
<g id="panel-d">
<clipPath id="clipd"><polygon points="359.4,324.4 473.7,311 467.8,450.8 363.6,489.3"/></clipPath>
<line x1="427.7" y1="304" x2="425.7" y2="432.6" stroke="#5e5e5e" stroke-width="0.55"/>
<line x1="324.7" y1="464.3" x2="425.7" y2="432.6" stroke="#5e5e5e" stroke-width="0.55"/>
<line x1="425.7" y1="432.6" x2="518.3" y2="472.6" stroke="#5e5e5e" stroke-width="0.55"/>
<polygon points="322.9,429.1 426.2,400.8 469.2,416.4 420.6,432.1 362.5,446.1" fill="#8cc468" fill-opacity="0.21"/>
<polygon points="321.4,399.8 426.6,376.7 470.3,390.3 361.8,418.6" fill="#8cc468" fill-opacity="0.21"/>
<polygon points="362.5,446.1 420.6,432.1 469.2,416.4 521.1,435.2 412.4,467.5" fill="#8cc468" fill-opacity="0.21"/>
<polygon points="361.8,418.6 470.3,390.3 523.3,406.7 412.6,442.3" fill="#8cc468" fill-opacity="0.21"/>
<polygon points="359.4,324.4 473.7,311 467.8,450.8 363.6,489.3" fill="#4a9c48"/>
<g clip-path="url(#clipd)">
<path d="M351.4,417.8C352.7,415.4 356.6,407.8 359.2,403.6C361.7,399.4 364.3,395.8 366.9,392.4C369.5,389.1 372,386.1 374.6,383.3C377.1,380.6 379.6,378.1 382.2,375.8C384.7,373.5 387.2,371.5 389.6,369.6C392.1,367.8 394.5,366.1 397,364.6C399.4,363.1 401.8,361.7 404.2,360.5C406.5,359.3 408.9,358.3 411.2,357.4C413.5,356.5 415.8,355.7 418.1,355.1C420.4,354.4 422.6,353.9 424.9,353.5C427.1,353.2 429.3,352.9 431.4,352.8C433.6,352.7 435.8,352.7 437.9,352.8C440,352.9 442.1,353.2 444.1,353.6C446.2,353.9 448.2,354.4 450.2,355.1C452.2,355.7 454.2,356.5 456.1,357.4C458.1,358.3 460,359.4 461.8,360.6C463.7,361.9 465.6,363.2 467.4,364.8C469.2,366.4 471,368.2 472.7,370.2C474.4,372.3 477,376 477.8,377.2" fill="none" stroke="#2ca08a" stroke-width="8" stroke-opacity="0.6" stroke-linecap="butt" filter="url(#b3)"/>
<path d="M352.3,444.5C353.5,442.4 357.4,435.7 359.9,431.9C362.5,428.1 365,424.9 367.5,421.8C370.1,418.7 372.6,415.9 375.1,413.4C377.6,410.8 380.1,408.5 382.5,406.4C385,404.2 387.4,402.3 389.9,400.5C392.3,398.8 394.7,397.2 397.1,395.8C399.4,394.3 401.8,393.1 404.1,391.9C406.5,390.8 408.8,389.8 411,388.9C413.3,388.1 415.6,387.4 417.8,386.7C420,386.1 422.2,385.7 424.4,385.3C426.6,385 428.8,384.8 430.9,384.7C433,384.6 435.1,384.6 437.2,384.7C439.2,384.9 441.3,385.1 443.3,385.5C445.3,385.9 447.3,386.5 449.3,387.1C451.2,387.8 453.2,388.6 455.1,389.6C457,390.5 458.8,391.6 460.7,392.9C462.5,394.2 464.3,395.7 466.1,397.4C467.8,399.1 469.6,401 471.3,403.3C473,405.5 475.4,409.8 476.2,411.1" fill="none" stroke="#2ca08a" stroke-width="8" stroke-opacity="0.65" stroke-linecap="butt" filter="url(#b3)"/>
<path d="M352,437.1C353.3,434.4 357.1,425.6 359.6,420.9C362.2,416.1 364.7,412.3 367.3,408.7C369.8,405 372.3,401.9 374.8,399C377.4,396 379.9,393.5 382.3,391.1C384.8,388.7 387.3,386.6 389.7,384.6C392.2,382.7 394.6,381 397,379.4C399.4,377.9 401.8,376.5 404.1,375.3C406.5,374.1 408.8,373.1 411.1,372.2C413.4,371.3 415.7,370.5 418,369.9C420.2,369.3 422.5,368.8 424.7,368.5C426.9,368.2 429,368 431.2,367.9C433.3,367.8 435.4,367.9 437.5,368.1C439.6,368.3 441.7,368.7 443.7,369.2C445.8,369.7 447.8,370.3 449.7,371.1C451.7,371.9 453.7,372.8 455.6,374C457.5,375.1 459.4,376.4 461.2,377.9C463.1,379.5 464.9,381.1 466.6,383.2C468.4,385.2 470.2,387.4 471.8,390.2C473.5,393 475.9,398.4 476.7,400.1" fill="none" stroke="#90a628" stroke-width="9" stroke-opacity="0.95" stroke-linecap="butt" filter="url(#b3)"/>
<path d="M377,396.5C377.8,395.7 380.3,393.1 381.9,391.5C383.5,389.9 385.2,388.5 386.8,387.1C388.4,385.7 390,384.4 391.6,383.2C393.2,382 394.7,380.9 396.3,379.9C397.9,378.9 399.4,377.9 401,377C402.6,376.1 404.1,375.3 405.6,374.6C407.2,373.8 408.7,373.1 410.2,372.5C411.7,371.9 413.2,371.4 414.7,370.9C416.2,370.4 417.7,370 419.1,369.6C420.6,369.2 422.1,368.9 423.5,368.7C425,368.4 426.4,368.2 427.8,368.1C429.2,368 430.6,367.9 432,367.9C433.4,367.9 434.8,367.9 436.2,368C437.6,368.1 438.9,368.3 440.3,368.5C441.6,368.7 443,369 444.3,369.3C445.6,369.7 446.9,370.1 448.2,370.5C449.6,371 450.8,371.5 452.1,372.1C453.4,372.8 454.7,373.4 455.9,374.2C457.1,374.9 459,376.2 459.6,376.7" fill="none" stroke="#9aa820" stroke-width="5" stroke-opacity="0.6" stroke-linecap="round" filter="url(#b3)"/>
<path d="M388.2,415.5C388.8,415 390.8,413.7 392,412.9C393.3,412.1 394.6,411.3 395.9,410.5C397.2,409.8 398.4,409.1 399.7,408.4C400.9,407.7 402.2,407.1 403.4,406.5C404.7,405.9 405.9,405.3 407.2,404.8C408.4,404.3 409.6,403.8 410.8,403.3C412,402.9 413.3,402.4 414.5,402C415.7,401.6 416.9,401.3 418.1,400.9C419.2,400.6 420.4,400.3 421.6,400C422.8,399.8 423.9,399.5 425.1,399.3C426.3,399.1 427.4,398.9 428.6,398.8C429.7,398.6 430.8,398.5 432,398.4C433.1,398.3 434.2,398.3 435.3,398.3C436.5,398.2 437.6,398.2 438.7,398.3C439.8,398.3 440.8,398.4 441.9,398.5C443,398.6 444.1,398.7 445.2,398.9C446.2,399 447.3,399.2 448.3,399.5C449.4,399.7 450.4,399.9 451.5,400.2C452.5,400.5 454.1,401 454.6,401.2" fill="none" stroke="#7ea636" stroke-width="7" stroke-opacity="0.35" stroke-linecap="round" filter="url(#b3)"/>
<path d="M351.2,410.9C352.6,411.4 356.7,413 359.4,413.9C362.1,414.8 364.8,415.5 367.4,416.2C370,416.8 372.6,417.3 375.2,417.7C377.7,418.2 380.2,418.5 382.7,418.7C385.2,419 387.6,419.1 390,419.2C392.4,419.2 394.8,419.2 397.1,419.1C399.5,419 401.8,418.9 404.1,418.6C406.4,418.4 408.6,418.1 410.9,417.7C413.1,417.3 415.3,416.8 417.5,416.3C419.7,415.8 421.9,415.2 424,414.5C426.2,413.9 428.3,413.2 430.4,412.4C432.5,411.6 434.6,410.8 436.6,409.9C438.7,409 440.7,408 442.8,407C444.8,406 446.8,404.9 448.8,403.7C450.8,402.6 452.8,401.3 454.7,400.1C456.7,398.8 458.6,397.4 460.6,396C462.5,394.6 464.4,393.1 466.3,391.5C468.2,390 470.1,388.4 472,386.6C473.9,384.9 476.7,382.2 477.6,381.3" fill="none" stroke="#86b85a" stroke-width="1.6" stroke-opacity="0.5" stroke-linecap="butt" filter="url(#b1)"/>
<path d="M351.3,415.5C352.7,415.6 356.8,416.3 359.5,416.6C362.2,416.9 364.8,417.1 367.4,417.3C370.1,417.5 372.6,417.6 375.2,417.7C377.7,417.7 380.2,417.7 382.7,417.7C385.1,417.6 387.6,417.5 390,417.3C392.4,417.2 394.8,416.9 397.1,416.7C399.5,416.4 401.8,416.1 404.1,415.7C406.4,415.4 408.7,415 410.9,414.5C413.1,414.1 415.4,413.6 417.6,413C419.7,412.5 421.9,411.9 424.1,411.3C426.2,410.7 428.3,410 430.4,409.3C432.5,408.6 434.6,407.8 436.7,407C438.8,406.2 440.8,405.4 442.8,404.5C444.8,403.7 446.9,402.8 448.8,401.8C450.8,400.9 452.8,399.9 454.8,398.8C456.7,397.8 458.6,396.7 460.6,395.6C462.5,394.5 464.4,393.4 466.3,392.2C468.2,391 470.1,389.8 471.9,388.5C473.8,387.2 476.5,385.2 477.5,384.5" fill="none" stroke="#86b85a" stroke-width="1.4" stroke-opacity="0.35" stroke-linecap="butt" filter="url(#b1)"/>
<ellipse cx="369.6" cy="486.8" rx="14" ry="2.6" transform="rotate(-20 369.6 486.8)" fill="#14a09a" filter="url(#b1)"/>
<ellipse cx="467.8" cy="446.5" rx="2.5" ry="7" fill="#14a09a" filter="url(#b1)"/>
</g>
<polygon points="362.5,446.1 420.6,432.1 469.2,416.4 521.1,435.2 412.4,467.5" fill="#a8e088" fill-opacity="0.08" clip-path="url(#clipd)"/>
<polygon points="361.8,418.6 470.3,390.3 523.3,406.7 412.6,442.3" fill="#a8e088" fill-opacity="0.08" clip-path="url(#clipd)"/>
<path d="M317.1,314.7L427.7,304M427.7,304L529.9,319.5M317.1,314.7L324.7,464.3M529.9,319.5L518.3,472.6M324.7,464.3L412.1,520.4M412.1,520.4L518.3,472.6" stroke="#5e5e5e" stroke-width="0.55" fill="none"/>
<path d="M324.2,312.9L324.4,315.2M351.6,310.2L351.8,312.5M377,307.8L377.2,310.1M400.5,305.5L400.7,307.8M422.3,303.4L422.5,305.7M432.5,303.6L432.2,305.9M452.3,306.6L452,308.9M473.8,309.8L473.5,312.1M497.4,313.4L497.1,315.7M523.2,317.3L522.9,319.6M318.6,321.4L316.3,321.5M319.4,337.7L317.1,337.8M320.2,353.7L317.9,353.8M321,369.3L318.7,369.4M321.8,384.7L319.5,384.8M322.5,399.7L320.2,399.9M323.3,414.5L321,414.6M324,429L321.7,429.2M324.8,443.3L322.5,443.4M325.5,457.3L323.2,457.4M530.5,326.5L528.2,326.3M529.3,343.2L527,343M528,359.6L525.7,359.4M526.8,375.6L524.5,375.4M525.6,391.3L523.3,391.2M524.4,406.8L522.1,406.6M523.3,421.9L521,421.7M522.2,436.8L519.9,436.6M521,451.3L518.7,451.2M520,465.6L517.7,465.5M329.2,465.8L328,467.8M345.9,476.6L344.7,478.5M364.2,488.3L363,490.3M384.4,501.3L383.2,503.2M406.7,515.6L405.5,517.6M418.7,516.2L419.6,518.3M445.4,504.2L446.3,506.3M469.8,493.2L470.7,495.3M492.2,483.1L493.2,485.2M512.9,473.8L513.8,475.9" stroke="#222" stroke-width="0.75" fill="none"/>
<g font-family="Liberation Serif, serif" fill="#222" stroke="#222" stroke-width="0.22"><text x="324.1" y="309.7" font-size="5.6" text-anchor="middle">-<tspan dx="0.9">4</tspan></text><text x="351.5" y="307.1" font-size="5.6" text-anchor="middle">-<tspan dx="0.9">2</tspan></text><text x="376.9" y="304.6" font-size="5.6" text-anchor="middle">0</text><text x="376.8" y="297.6" font-size="6.6" text-anchor="middle">X(m)</text><text x="400.4" y="302.3" font-size="5.6" text-anchor="middle">2</text><text x="422.2" y="300.2" font-size="5.6" text-anchor="middle">4</text><text x="432.3" y="300.4" font-size="5.6" text-anchor="middle">-<tspan dx="0.9">4</tspan></text><text x="452" y="303.4" font-size="5.6" text-anchor="middle">-<tspan dx="0.9">2</tspan></text><text x="473.6" y="306.7" font-size="5.6" text-anchor="middle">0</text><text x="473.9" y="299.3" font-size="6.6" text-anchor="middle">Y(m)</text><text x="497.1" y="310.2" font-size="5.6" text-anchor="middle">2</text><text x="523" y="314.1" font-size="5.6" text-anchor="middle">4</text><text x="314" y="323.6" font-size="5.6" text-anchor="end">-<tspan dx="0.9">5</tspan></text><text x="314.8" y="339.9" font-size="5.6" text-anchor="end">-<tspan dx="0.9">4</tspan></text><text x="315.7" y="355.8" font-size="5.6" text-anchor="end">-<tspan dx="0.9">3</tspan></text><text x="316.4" y="371.5" font-size="5.6" text-anchor="end">-<tspan dx="0.9">2</tspan></text><text x="317.2" y="386.8" font-size="5.6" text-anchor="end">-<tspan dx="0.9">1</tspan></text><text x="318" y="401.9" font-size="5.6" text-anchor="end">0</text><text x="310.7" y="397.4" font-size="6.6" text-anchor="end">Z(m)</text><text x="318.7" y="416.7" font-size="5.6" text-anchor="end">1</text><text x="319.5" y="431.2" font-size="5.6" text-anchor="end">2</text><text x="320.2" y="445.5" font-size="5.6" text-anchor="end">3</text><text x="320.9" y="459.5" font-size="5.6" text-anchor="end">4</text><text x="532.7" y="328.7" font-size="5.6" text-anchor="start">-<tspan dx="0.9">5</tspan></text><text x="531.4" y="345.4" font-size="5.6" text-anchor="start">-<tspan dx="0.9">4</tspan></text><text x="530.2" y="361.8" font-size="5.6" text-anchor="start">-<tspan dx="0.9">3</tspan></text><text x="529" y="377.8" font-size="5.6" text-anchor="start">-<tspan dx="0.9">2</tspan></text><text x="527.8" y="393.5" font-size="5.6" text-anchor="start">-<tspan dx="0.9">1</tspan></text><text x="526.6" y="409" font-size="5.6" text-anchor="start">0</text><text x="533.1" y="404.7" font-size="6.6" text-anchor="start">Z(m)</text><text x="525.4" y="424.1" font-size="5.6" text-anchor="start">1</text><text x="524.3" y="439" font-size="5.6" text-anchor="start">2</text><text x="523.2" y="453.5" font-size="5.6" text-anchor="start">3</text><text x="522.1" y="467.9" font-size="5.6" text-anchor="start">4</text><text x="325.4" y="472.5" font-size="5.6" text-anchor="end">-<tspan dx="0.9">4</tspan></text><text x="342.1" y="483.2" font-size="5.6" text-anchor="end">-<tspan dx="0.9">2</tspan></text><text x="360.4" y="495" font-size="5.6" text-anchor="end">0</text><text x="353.6" y="497.7" font-size="6.6" text-anchor="end">Y(m)</text><text x="380.6" y="507.9" font-size="5.6" text-anchor="end">2</text><text x="402.9" y="522.3" font-size="5.6" text-anchor="end">4</text><text x="421.5" y="523.7" font-size="5.6" text-anchor="start">-<tspan dx="0.9">4</tspan></text><text x="448.2" y="511.7" font-size="5.6" text-anchor="start">-<tspan dx="0.9">2</tspan></text><text x="472.7" y="500.7" font-size="5.6" text-anchor="start">0</text><text x="478.5" y="504.8" font-size="6.6" text-anchor="start">X(m)</text><text x="495.1" y="490.6" font-size="5.6" text-anchor="start">2</text><text x="515.8" y="481.3" font-size="5.6" text-anchor="start">4</text></g>
<g font-family="Liberation Serif, serif" fill="#1a1a1a" stroke="#1a1a1a" stroke-width="0.18" font-size="9">
<text x="419" y="289.6" text-anchor="middle">Time = 60 ns</text>
<text x="322.1" y="323.6" text-anchor="start">(d)</text>
<text x="483.9" y="409" text-anchor="start">Ground</text>
<text x="486.3" y="437.2" text-anchor="start">Planes</text>
</g>
</g>
</svg></body></html>
